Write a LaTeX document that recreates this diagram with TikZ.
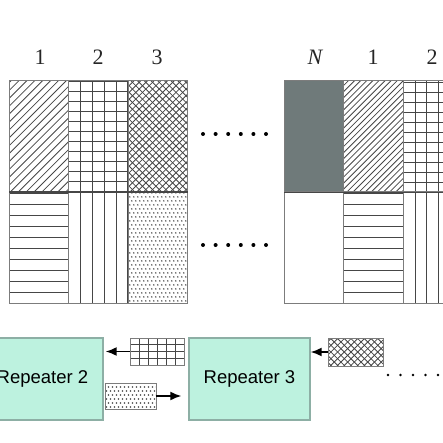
\documentclass[tikz,border=0pt]{standalone}
\usepackage{fontspec}
\setsansfont{Liberation Sans}
\newfontfamily\digitfont{Liberation Serif}
\usetikzlibrary{arrows.meta}
\definecolor{hatchgray}{HTML}{464646}
\definecolor{edgegray}{HTML}{7C7C7C}
\definecolor{slotgray}{HTML}{6F7A7A}
\definecolor{repfill}{HTML}{BDF2DF}
\definecolor{repedge}{HTML}{8DAFA5}

\begin{document}
\begin{tikzpicture}[x=1pt, y=-1pt,
    cell/.style={rectangle, draw=edgegray, line width=0.9pt, inner sep=0pt,
                 anchor=north west, minimum width=59.4pt, minimum height=111pt},
    hatch/.style={draw=hatchgray, line width=0.8pt},
    % "/" lines, #1 = horizontal step
    diag/.style={path picture={
      \foreach \k in {0,...,32}
        \draw[hatch] ([xshift={-125+\k*#1}]path picture bounding box.south west) -- ++(135,-135);}},
    cross/.style={path picture={
      \foreach \k in {0,...,32} {
        \draw[hatch] ([xshift={-125+\k*#1}]path picture bounding box.south west) -- ++(135,-135);
        \draw[hatch] ([xshift={-125+\k*#1}]path picture bounding box.north west) -- ++(135,135);}}},
    hlines/.style={path picture={
      \foreach \k in {1,...,12}
        \draw[hatch] ([yshift={\k*#1}]path picture bounding box.south west) -- ++(70,0);}},
    vlines/.style={path picture={
      \foreach \k in {1,...,8}
        \draw[hatch] ([xshift={\k*#1}]path picture bounding box.south west) -- ++(0,-120);}},
    gridpat/.style 2 args={path picture={
      \foreach \k in {1,...,8}
        \draw[hatch] ([xshift={\k*#1}]path picture bounding box.south west) -- ++(0,-120);
      \foreach \k in {1,...,12}
        \draw[hatch] ([yshift={\k*#2}]path picture bounding box.south west) -- ++(70,0);}},
    dotpat/.style={path picture={
      \foreach \i in {0,...,27} \foreach \j in {0,...,15}
        \fill[hatchgray] ([xshift={\j*4+mod(\i,2)*2+1.5}, yshift={\i*4+2}]path picture bounding box.south west) circle (0.8pt);}},
    numlbl/.style={font=\digitfont\fontsize{22}{26}\selectfont, text=black!85},
    repeater/.style={rectangle, draw=repedge, line width=1.4pt, fill=repfill,
                     minimum width=121pt, minimum height=82pt,
                     font=\sffamily\fontsize{18.5}{22}\selectfont},
    packet/.style={rectangle, draw=edgegray, line width=0.9pt, inner sep=0pt, fill=white},
    arrow/.style={-{Latex[length=11pt, width=9pt]}, line width=1.6pt, draw=black}
  ]
    \useasboundingbox (0,0) rectangle (443,443);
    \clip (0,0) rectangle (443,443);

    % left frame
    \node[numlbl] (l1) at (40,57)  {1};
    \node[numlbl] (l2) at (98,57)  {2};
    \node[numlbl] (l3) at (157,57) {3};
    \node[cell, diag=7.9]           (a1) at (9,80)        {};
    \node[cell, gridpat={11.8}{10}] (a2) at (68.4,80)     {};
    \node[cell, cross=6.7]          (a3) at (127.8,80)    {};
    \node[cell, hlines=11]          (b1) at (9,191.5)     {};
    \node[cell, vlines=11.8]        (b2) at (68.4,191.5)  {};
    \node[cell, dotpat]             (b3) at (127.8,191.5) {};
    \draw[hatchgray, line width=1.4pt] (a1.south west) -- (a3.south east);

    \foreach \i in {0,...,5} {
      \fill ({203+\i*12.6},134) circle (2pt);
      \fill ({203+\i*12.6},245) circle (2pt);
    }

    % right frame
    \node[numlbl] (rN) at (315,57)  {\itshape N};
    \node[numlbl] (r1) at (373,57)  {1};
    \node[numlbl] (r2) at (432,57)  {2};
    \node[cell, fill=slotgray]      (cN) at (284,80.5)    {};
    \node[cell, diag=6.1]           (c1) at (343.4,80.5)  {};
    \node[cell, gridpat={11.8}{10}] (c2) at (402.8,80.5)  {};
    \node[cell, fill=white]         (dN) at (284,191.5)   {};
    \node[cell, hlines=11]          (d1) at (343.4,191.5) {};
    \node[cell, vlines=11.8]        (d2) at (402.8,191.5) {};
    \draw[hatchgray, line width=1.4pt] (cN.south west) -- (c2.south east);

    % repeaters
    \node[repeater] (rep2) at (42.5,379)  {Repeater 2};
    \node[repeater] (rep3) at (249.5,379) {Repeater 3};

    \node[packet, gridpat={9}{6.8}, minimum width=54pt, minimum height=27pt] (pk2) at (157,351.5) {};
    \node[packet, dotpat,           minimum width=51pt, minimum height=26pt] (pk3) at (130.5,396) {};
    \node[packet, cross=6.7,        minimum width=55pt, minimum height=28pt] (pk4) at (355.5,352) {};

    \draw[arrow, shorten >=2pt] (pk2.west) -- (rep2.east |- pk2.west);
    \draw[arrow, shorten >=7pt] (pk3.east) -- (rep3.west |- pk3.east);
    \draw[arrow] (pk4.west) -- (rep3.east |- pk4.west);

    \foreach \i in {0,...,4}
      \fill ({388+\i*12.5},375) circle (1.4pt);
\end{tikzpicture}
\end{document}
